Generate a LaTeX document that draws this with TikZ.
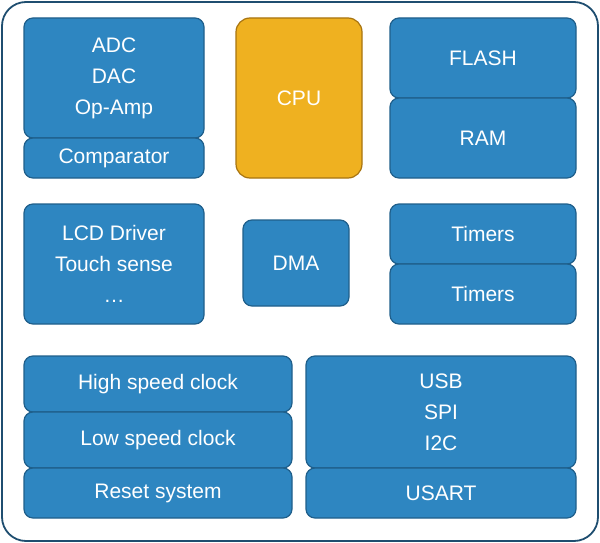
\documentclass[tikz,border=0pt]{standalone}
\usepackage{fontspec}
\setmainfont{Liberation Sans}
\definecolor{bfill}{HTML}{2E86C1}
\definecolor{bline}{HTML}{1F5F8B}
\definecolor{ofr}{HTML}{1F4E70}
\definecolor{cfill}{HTML}{EFB120}
\definecolor{cline}{HTML}{A87410}
\begin{document}
\begin{tikzpicture}[x=1pt,y=-1pt,
  blk/.style={draw=bline,line width=1.2pt,fill=bfill,rounded corners=9pt},
  txt/.style={text=white,font=\fontsize{21}{31}\selectfont,align=center}]
\useasboundingbox (0,0) rectangle (600,543);
\draw[ofr,line width=1.8pt,rounded corners=24pt] (2,2) rectangle (598,541);
\newcommand\bx[6]{\draw[blk,#6] (#1,#2) rectangle (#3,#4); \node[txt] at ({(#1+#3)/2},{(#2+#4)/2}) {#5};}
\bx{24}{18}{204}{138}{ADC\\DAC\\Op-Amp}{}
\bx{24}{138}{204}{178}{Comparator}{}
\draw[draw=cline,line width=1.2pt,fill=cfill,rounded corners=14pt] (236,18) rectangle (362,178);
\node[txt] (cpu) at (299,98) {CPU};
\bx{390}{18}{576}{98}{FLASH}{}
\bx{390}{98}{576}{178}{RAM}{}
\bx{24}{204}{204}{324}{LCD Driver\\Touch sense\\\dots}{}
\bx{243}{220}{349}{306}{DMA}{}
\bx{390}{204}{576}{264}{Timers}{}
\bx{390}{264}{576}{324}{Timers}{}
\bx{24}{356}{292}{412}{High speed clock}{}
\bx{24}{412}{292}{468}{Low speed clock}{}
\bx{24}{468}{292}{518}{Reset system}{}
\bx{306}{356}{576}{468}{USB\\SPI\\I2C}{}
\bx{306}{468}{576}{518}{USART}{}
\end{tikzpicture}
\end{document}
